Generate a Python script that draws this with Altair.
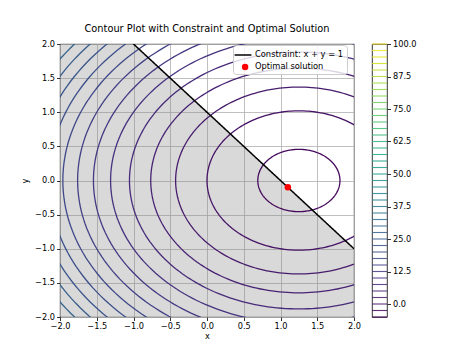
import altair as alt
import numpy as np
import pandas as pd

TITLE = "Contour Plot with Constraint and Optimal Solution"
# objective f(x, y) = A*x^2 + B*y^2 + C*x
OBJ_A, OBJ_B, OBJ_C = 2.0, 3.0, -5.0
LEVELS = [-5.0, -2.5, 0.0, 2.5, 5.0, 7.5, 10.0, 12.5, 15.0, 17.5, 20.0, 22.5,
          25.0, 27.5, 30.0, 32.5, 35.0, 37.5, 40.0, 42.5, 45.0, 47.5, 50.0,
          52.5, 55.0, 57.5, 60.0, 62.5, 65.0, 67.5, 70.0, 72.5, 75.0, 77.5,
          80.0, 82.5, 85.0, 87.5, 90.0, 92.5, 95.0, 97.5, 100.0]
CBAR_TICKS = [0.0, 12.5, 25.0, 37.5, 50.0, 62.5, 75.0, 87.5, 100.0]
AXIS_TICKS = [-2.0, -1.5, -1.0, -0.5, 0.0, 0.5, 1.0, 1.5, 2.0]
# feasible region x + y <= 1 (boundary vertices)
REGION_X = [-2.0, -1.0, 2.0]
REGION_TOP = [2.0, 2.0, -1.0]
REGION_BOTTOM = [-2.0, -2.0, -2.0]
LINE_X = [-2.0, 2.0]
LINE_Y = [3.0, -1.0]
OPT_X = [1.1]
OPT_Y = [-0.1]
LAB_LINE = "Constraint: x + y = 1"
LAB_OPT = "Optimal solution"

FONT = "DejaVu Sans"
W, H = 294, 273

# contour ellipses of the objective
x0 = -OBJ_C / (2 * OBJ_A)
fmin = -OBJ_C ** 2 / (4 * OBJ_A)
fmax_view = max(OBJ_A * x * x + OBJ_B * y * y + OBJ_C * x for x in (-2, 2) for y in (-2, 2))
t = np.linspace(0, 2 * np.pi, 241)
rows = []
for L in LEVELS:
    if L <= fmin or L > fmax_view + 2.5:
        continue
    rx = np.sqrt((L - fmin) / OBJ_A)
    ry = np.sqrt((L - fmin) / OBJ_B)
    for i, tt in enumerate(t):
        rows.append({"level": L, "i": i, "x": x0 + rx * np.cos(tt), "y": ry * np.sin(tt)})
cont_df = pd.DataFrame(rows)

xs = alt.Scale(domain=[-2, 2], nice=False, zero=False)
ys = alt.Scale(domain=[-2, 2], nice=False, zero=False)
xax = alt.Axis(values=AXIS_TICKS, format=".1f", title="x", titlePadding=3,
               labelOverlap=False, labelFlush=False, tickCount=9)
yax = alt.Axis(values=AXIS_TICKS, format=".1f", title="y", titlePadding=5,
               labelOverlap=False, labelFlush=False, tickCount=9)
vir = alt.Scale(scheme="viridis", domain=[-5, 100])


def X(field):
    return alt.X(field, type="quantitative", scale=xs, axis=xax)


def Y(field):
    return alt.Y(field, type="quantitative", scale=ys, axis=yax)


region = alt.Chart(pd.DataFrame({"x": REGION_X, "top": REGION_TOP, "bot": REGION_BOTTOM})).mark_area(
    color="gray", opacity=0.3, clip=True
).encode(x=X("x"), y=Y("top"), y2="bot:Q")

contours = alt.Chart(cont_df).mark_line(strokeWidth=1.3, clip=True).encode(
    x=X("x"), y=Y("y"), detail="level:N", order="i:Q",
    stroke=alt.Stroke("level:Q", scale=vir, legend=None),
)

line = alt.Chart(pd.DataFrame({"x": LINE_X, "y": LINE_Y, "s": [LAB_LINE] * 2})).mark_line(
    color="black", strokeWidth=1.5, clip=True
).encode(
    x=X("x"), y=Y("y"),
    strokeDash=alt.StrokeDash(
        "s:N",
        scale=alt.Scale(domain=[LAB_LINE, LAB_OPT], range=[[1, 0], [0, 100]]),
        legend=alt.Legend(
            title=None, orient="none", legendX=173, legendY=1,
            fillColor="rgba(255,255,255,0.8)", strokeColor="#cccccc", cornerRadius=3,
            padding=3, labelFont=FONT, labelFontSize=8.3, labelColor="black",
            labelOffset=5, rowPadding=1, symbolType="M-1.4,0H1.4", symbolSize=144,
            symbolStrokeWidth=1.5, symbolStrokeColor="black",
        ),
    ),
)

point = alt.Chart(pd.DataFrame({"x": OPT_X, "y": OPT_Y, "s": [LAB_OPT]})).mark_point(
    filled=True, color="red", size=42, opacity=1
).encode(
    x=X("x"), y=Y("y"),
    shape=alt.Shape(
        "s:N",
        scale=alt.Scale(domain=[LAB_OPT], range=["circle"]),
        legend=alt.Legend(
            title=None, orient="none", legendX=181, legendY=19, labelExpr="''",
            padding=0, symbolSize=42, symbolFillColor="red", symbolStrokeColor="red",
            symbolStrokeWidth=0, labelFontSize=8.2,
        ),
    ),
)

main = alt.layer(region, contours, line, point).properties(
    width=W, height=H,
    title=alt.TitleParams(TITLE, font=FONT, fontSize=9.8, fontWeight="normal",
                          color="black", anchor="middle", offset=5),
)

cbar = alt.Chart(pd.DataFrame({"level": LEVELS})).mark_rule(strokeWidth=1.1, opacity=0.85).encode(
    y=alt.Y("level:Q", scale=alt.Scale(domain=[-5, 100], nice=False, zero=False),
            axis=alt.Axis(orient="right", values=CBAR_TICKS, format=".1f", title=None,
                          grid=False, labelOverlap=False, labelFlush=False)),
    stroke=alt.Stroke("level:Q", scale=vir, legend=None),
).properties(width=15, height=H)

chart = alt.hconcat(main, cbar, spacing=18, bounds="flush").resolve_legend(
    strokeDash="independent", shape="independent"
).properties(
    padding={"left": 12, "top": 15, "right": 5, "bottom": 5}
).configure_view(stroke="black", strokeWidth=0.8).configure_axis(
    labelFont=FONT, labelFontSize=8.2, labelColor="black", titleFont=FONT,
    titleFontSize=8.2, titleFontWeight="normal", titleColor="black",
    tickColor="black", tickSize=3.5, tickWidth=0.8, domain=False,
    gridColor="#b0b0b0", gridWidth=0.8, labelPadding=2,
)

chart.save("out.html", embed_options={"renderer": "svg", "actions": False})
